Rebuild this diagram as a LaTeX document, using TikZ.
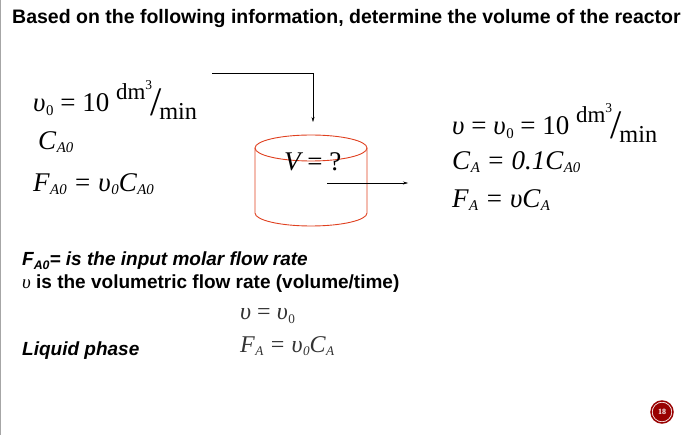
\documentclass[tikz,border=0pt]{standalone}
\usepackage{fontspec}
\usetikzlibrary{arrows.meta}
\setmainfont{Liberation Sans}
\newfontfamily\tms{Liberation Serif}
\newcommand{\ups}{{\itshape υ}}
\newcommand{\vsub}[2]{#1\kern0.02em\raisebox{-0.3ex}{\scalebox{0.55}{#2}}}
\newcommand{\sfr}{\raisebox{1.0ex}{\scalebox{0.85}{dm}\raisebox{0.8ex}{\scalebox{0.5}{3}}}\kern-0.05em\raisebox{-0.3ex}{\scalebox{1.5}{/}}\kern-0.1em\raisebox{-0.6ex}{\scalebox{0.9}{min}}}
\begin{document}
\begin{tikzpicture}[x=1pt,y=-1pt,
  eq/.style={anchor=west,inner sep=0pt,font=\tms\fontsize{27}{27}\selectfont},
  eqs/.style={anchor=west,inner sep=0pt,font=\tms\fontsize{24}{24}\selectfont},
  txt/.style={anchor=west,inner sep=0pt,font=\bfseries\fontsize{19}{19}\selectfont},
  arr/.style={-{Stealth[length=5pt,width=3pt]},thin}]
\useasboundingbox (0,0) rectangle (700,435);
\draw[gray!70,line width=1pt] (0.5,0) -- (0.5,435);
\node[txt,font=\bfseries\fontsize{19.5}{19.5}\selectfont] (title) at (12,19) {Based on the following information, determine the volume of the reactor};
% left
\node[eq] (v0) at (33,100) {\vsub{\ups}{0} = 10 \sfr};
\node[eq] (ca0) at (38,142) {\vsub{\itshape C}{\itshape A0}};
\node[eq] (fa0) at (33,184) {\vsub{\itshape F}{\itshape A0} = \vsub{\ups}{0}\vsub{\itshape C}{\itshape A0}};
% cylinder
\draw[draw=red!50!brown,line width=0.9pt] (255,148) -- (255,213) arc[start angle=180,end angle=0,x radius=56,y radius=13] -- (367,148);
\draw[draw=red!50!brown,line width=0.9pt] (311,148) ellipse[x radius=56,y radius=13];
\node[eq] (V) at (284,162) {\itshape V\upshape\ = ?};
\coordinate (in0) at (212,73);
\coordinate (in1) at (313,73);
\coordinate (in2) at (313,122);
\draw[arr] (in0) -- (in1) -- (in2);
\coordinate (o0) at (327,183);
\coordinate (o1) at (408,183);
\draw[arr] (o0) -- (o1);
% right
\node[eq] (v) at (452,123) {\ups\ = \vsub{\ups}{0} = 10 \sfr};
\node[eq] (ca) at (452,162) {\vsub{\itshape C}{\itshape A} = 0.1\vsub{\itshape C}{\itshape A0}};
\node[eq] (fa) at (452,200) {\vsub{\itshape F}{\itshape A} = \ups\vsub{\itshape C}{\itshape A}};
% bottom
\node[txt] (t1) at (22,261) {\itshape F\raisebox{-0.4ex}{\scalebox{0.65}{A0}}= is the input molar flow rate};
\node[txt] (t2) at (22,284) {{\tms\mdseries\itshape υ} is the volumetric flow rate (volume/time)};
\node[eqs,text=black!80] (e1) at (240,316) {\ups\ = \vsub{\ups}{0}};
\node[txt,font=\bfseries\itshape\fontsize{19}{19}\selectfont] (lp) at (22,351) {Liquid phase};
\node[eqs,text=black!80] (e2) at (240,346) {\vsub{\itshape F}{\itshape A} = \vsub{\ups}{0}\vsub{\itshape C}{\itshape A}};
\node[circle,fill=red!60!black,draw=white,double=red!60!black,double distance=1.5pt,line width=0.8pt,minimum size=22pt,inner sep=0pt,text=white,font=\tms\bfseries\fontsize{8}{8}\selectfont] (pg) at (662,412) {18};
\end{tikzpicture}
\end{document}
